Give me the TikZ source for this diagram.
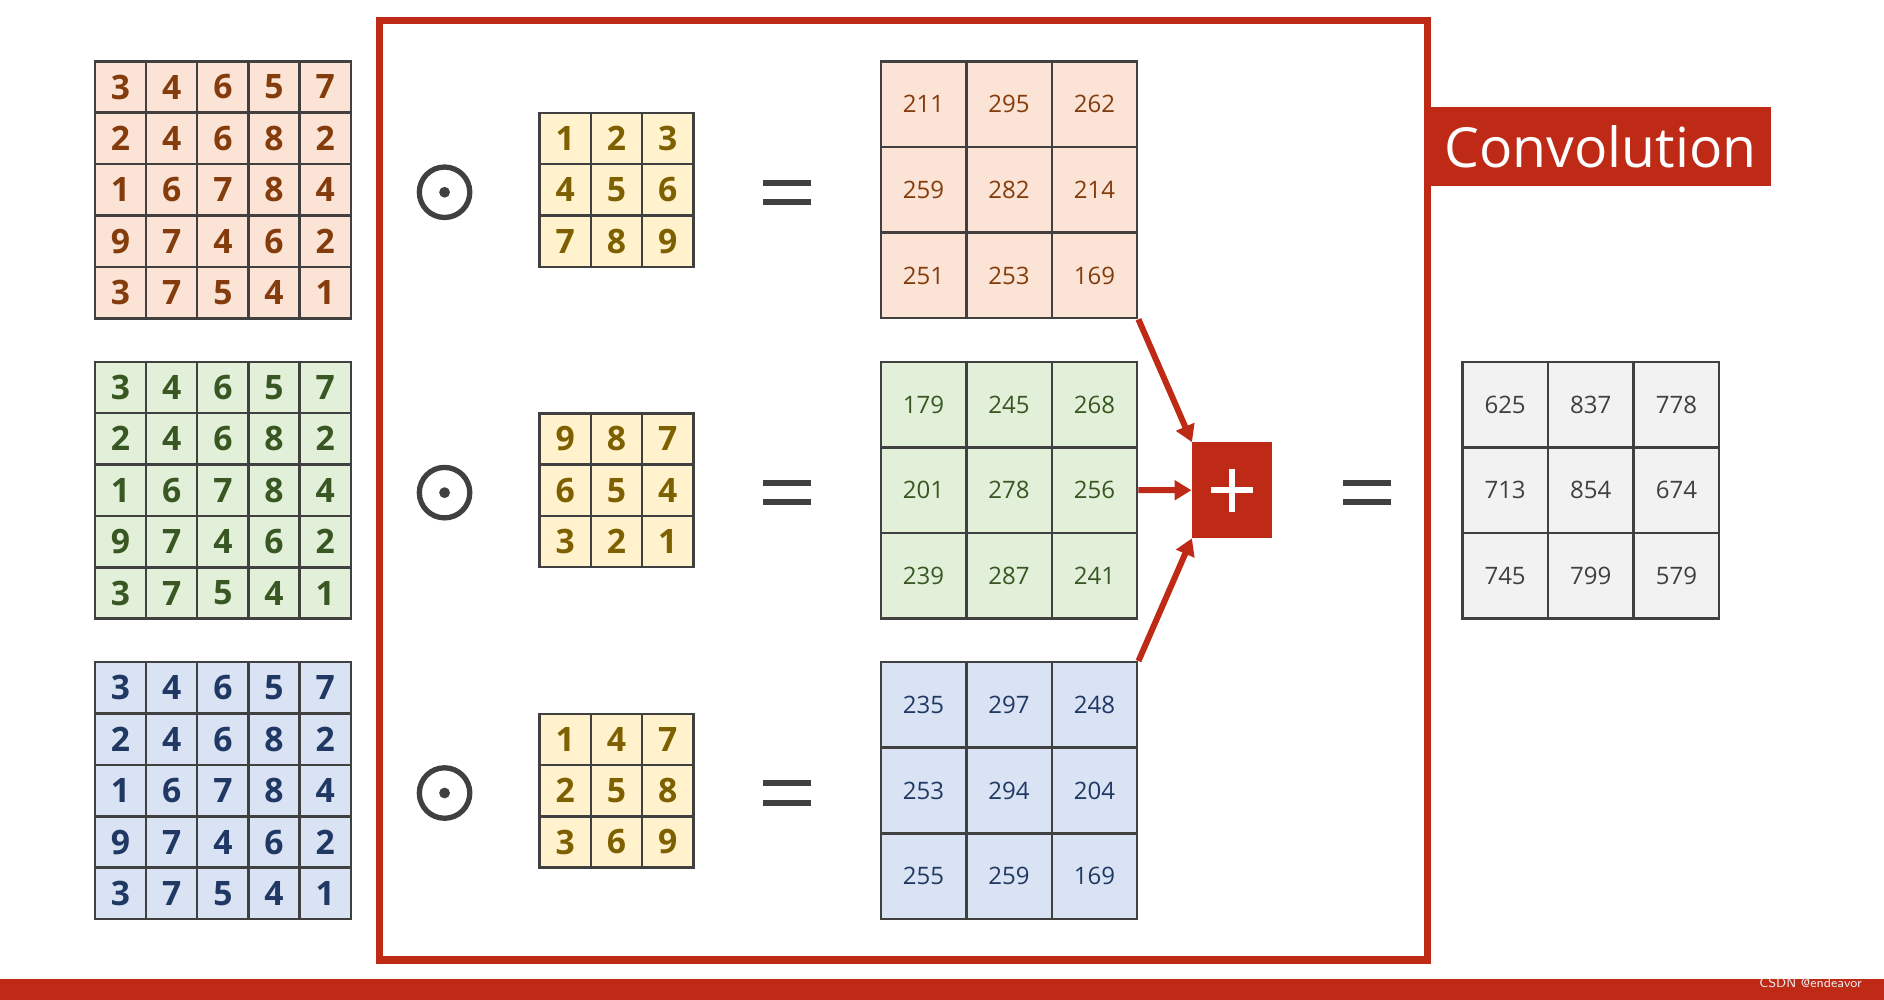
\documentclass[tikz,border=0pt]{standalone}
\usepackage{fontspec}
\setmainfont{Open Sans}
\usetikzlibrary{arrows.meta}
\definecolor{cred}{HTML}{BE2A16}
\definecolor{ofill}{HTML}{FBE3D6}\definecolor{otxt}{HTML}{843C0C}
\definecolor{gfill}{HTML}{E2F0D9}\definecolor{gtxt}{HTML}{385723}
\definecolor{bfill}{HTML}{DAE3F3}\definecolor{btxt}{HTML}{203864}
\definecolor{kfill}{HTML}{FFF2CC}\definecolor{ktxt}{HTML}{7F6000}
\definecolor{sfill}{HTML}{F2F2F2}\definecolor{stxt}{HTML}{404040}
\definecolor{lgray}{HTML}{404040}
\tikzset{
 cellA/.style={draw=lgray,line width=1pt,minimum size=21.3pt,inner sep=0pt,font=\fontsize{14}{14}\selectfont\bfseries},
 cellK/.style={draw=lgray,line width=1pt,minimum size=21.35pt,inner sep=0pt,fill=kfill,text=ktxt,font=\fontsize{14}{14}\selectfont\bfseries},
 cellR/.style={draw=lgray,line width=1pt,minimum size=35.5pt,inner sep=0pt,font=\fontsize{10}{10}\selectfont},
 eqsign/.style={line width=2.5pt,draw=lgray},
 redarrow/.style={draw=cred,line width=2.5pt,-{Triangle[length=7pt,width=8pt]}}
}
\begin{document}
\begin{tikzpicture}[x=0.5pt,y=-0.5pt]
\useasboundingbox (0,0) rectangle (1568,832);
\fill[white] (0,0) rectangle (1568,832);
% big 5x5 grids
\foreach \gy/\fc/\tc/\gn in {51/ofill/otxt/a,301/gfill/gtxt/b,551/bfill/btxt/c}{
 \foreach \row [count=\r] in {{3,4,6,5,7},{2,4,6,8,2},{1,6,7,8,4},{9,7,4,6,2},{3,7,5,4,1}}
  \foreach \v [count=\c] in \row
   \node[cellA,fill=\fc,text=\tc] (\gn\r\c) at ({79+42.6*(\c-0.5)},{\gy+42.8*(\r-0.5)}) {\v};
}
% frame
\draw[cred,line width=3pt] (316,17) rectangle (1188,799);
\fill[cred] (0,815) rectangle (1568,832);
\node[fill=cred,text=white,minimum width=142pt,minimum height=33pt,inner sep=0pt,font=\fontsize{23}{23}\selectfont] (conv) at (1332,122) {Convolution};
% odot, kernels, equals
\foreach \cy/\k/\kn in {160/{{1,2,3},{4,5,6},{7,8,9}}/ka,410/{{9,8,7},{6,5,4},{3,2,1}}/kb,660/{{1,4,7},{2,5,8},{3,6,9}}/kc}{
 \node[circle,draw=lgray,line width=2.2pt,minimum size=21pt,inner sep=0pt] (od\kn) at (370,\cy) {};
 \fill[lgray] (od\kn.center) circle (4.5);
 \foreach \row [count=\r] in \k
  \foreach \v [count=\c] in \row
   \node[cellK] (\kn\r\c) at ({449+42.7*(\c-0.5)},{\cy-66+42.7*(\r-0.5)}) {\v};
 \draw[eqsign] (635,{\cy-8}) -- (675,{\cy-8}) (635,{\cy+8}) -- (675,{\cy+8});
}
% results
\foreach \gy/\fc/\tc/\gn/\vals in {51/ofill/otxt/ra/{{211,295,262},{259,282,214},{251,253,169}},
 301/gfill/gtxt/rb/{{179,245,268},{201,278,256},{239,287,241}},
 551/bfill/btxt/rc/{{235,297,248},{253,294,204},{255,259,169}}}{
 \foreach \row [count=\r] in \vals
  \foreach \v [count=\c] in \row
   \node[cellR,fill=\fc,text=\tc] (\gn\r\c) at ({733+71.2*(\c-0.5)},{\gy+71.3*(\r-0.5)}) {\v};
}
% plus
\node[fill=cred,minimum width=33.5pt,minimum height=40pt,inner sep=0pt] (plus) at (1025.5,408) {};
\draw[white,line width=2.5pt] (1008,408) -- (1043,408) (1025.5,390) -- (1025.5,426);
\coordinate (pa) at (992,368);
\coordinate (pc) at (992,448);
\draw[redarrow] (ra33.south east) -- (pa);
\draw[redarrow] (rb23.east) -- (plus.west);
\draw[redarrow] (rc13.north east) -- (pc);
\draw[eqsign] (1118,402) -- (1158,402) (1118,418) -- (1158,418);
% sum
\foreach \row [count=\r] in {{625,837,778},{713,854,674},{745,799,579}}
 \foreach \v [count=\c] in \row
  \node[cellR,fill=sfill,text=stxt] (s\r\c) at ({1217+71.3*(\c-0.5)},{301+71.3*(\r-0.5)}) {\v};
\node[text=white!85!gray,font=\fontsize{5.5}{5.5}\selectfont\sffamily,anchor=east,inner sep=0pt] (csdn) at (1550,818) {CSDN @endeavor};
\end{tikzpicture}
\end{document}
